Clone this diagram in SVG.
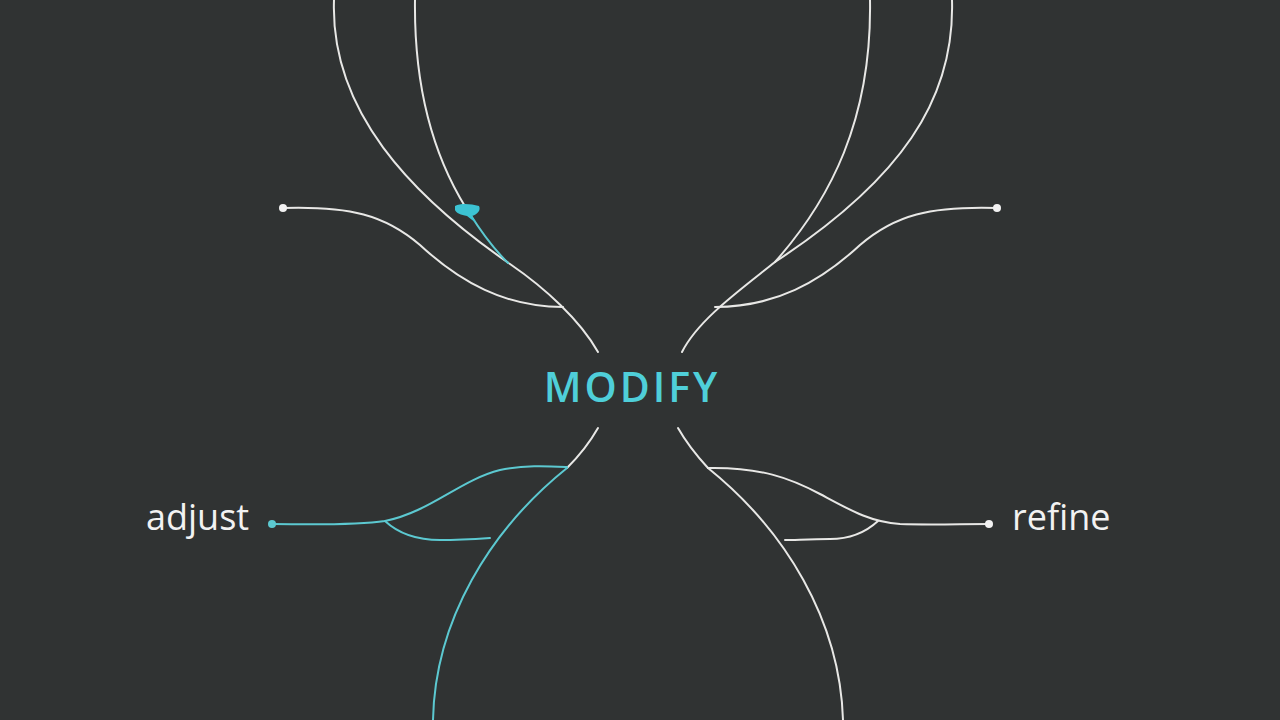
<svg xmlns="http://www.w3.org/2000/svg" width="1280" height="720" viewBox="0 0 1280 720">
<style>
.w{fill:none;stroke:#e8e8e6;stroke-width:2;stroke-linecap:round}
.c{fill:none;stroke:#5cc9d1;stroke-width:2;stroke-linecap:round}
.lbl{font-family:"Open Sans","Liberation Sans",sans-serif;font-size:36px;fill:#f2f2f2}
.title{font-family:"Open Sans","Liberation Sans",sans-serif;font-size:41px;font-weight:600;fill:#4fcfd9;letter-spacing:3px}
</style>
<rect width="1280" height="720" fill="#303333"/>
<g id="connectors">
<path class="w" d="M334,0 C330,110 410,195 510,264 C545,288 580,320 598,352"/>
<path class="w" d="M415,0 C414,80 430,150 466,208"/>
<path class="c" d="M470,214 C480,230 492,247 508,263"/>
<path fill="#3cc3d3" d="M455,206 C461,203 471,204 479,206 C481,210 478,214 472,216 L476,223 L467,216 C461,215 456,213 455,210 Z"/>
<path class="w" d="M283,208 C350,206 385,215 420,245 C460,282 505,307 563,307"/>
<path class="w" d="M870,0 C872,120 830,200 775,262 C740,290 698,320 682,352"/>
<path class="w" d="M952,0 C955,100 900,180 775,262"/>
<path class="w" d="M997,208 C930,206 895,215 860,245 C820,282 775,307 715,307"/>
<path class="w" d="M598,428 C590,442 580,455 567,468"/>
<path class="c" d="M567,468 C490,530 435,620 433,720"/>
<path class="c" d="M272,524 C330,525 365,524 385,521 C430,512 460,480 500,470 C525,465 545,466 567,467"/>
<path class="c" d="M385,521 C400,535 420,540 440,540 C460,540 475,539 490,538"/>
<path class="w" d="M678,428 C686,442 696,455 708,468"/>
<path class="w" d="M708,468 C785,530 840,620 843,720"/>
<path class="w" d="M708,468 C760,467 790,478 820,494 C850,510 870,522 900,524 C930,525 960,524 989,524"/>
<path class="w" d="M878,521 C865,533 850,539 830,539 C810,539 795,540 785,540"/>
</g>
<g id="node-modify">
<text class="title" x="632" y="402" text-anchor="middle">MODIFY</text>
</g>
<g id="node-top-left">
<circle cx="283" cy="208" r="4" fill="#f2f2f2"/>
</g>
<g id="node-top-right">
<circle cx="997" cy="208" r="4" fill="#f2f2f2"/>
</g>
<g id="node-adjust">
<circle cx="272" cy="524" r="4" fill="#5cc9d1"/>
<text class="lbl" x="146" y="530">adjust</text>
</g>
<g id="node-refine">
<circle cx="989" cy="524" r="4" fill="#f2f2f2"/>
<text class="lbl" x="1012" y="530">refine</text>
</g>
</svg>
